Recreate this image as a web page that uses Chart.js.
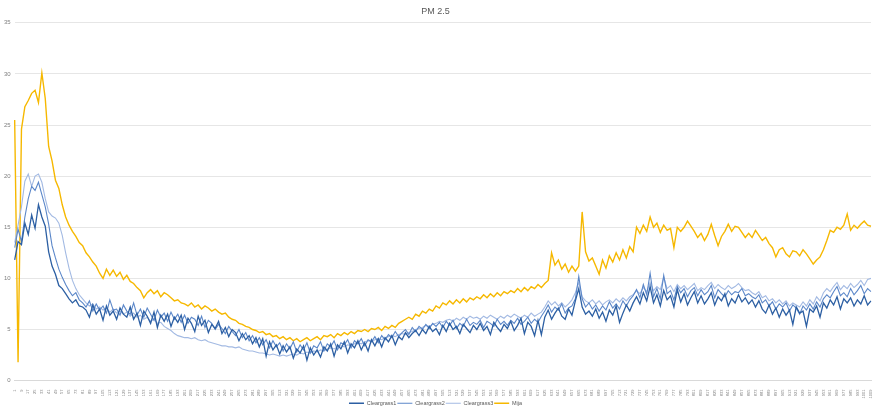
<!DOCTYPE html>
<html>
<head>
<meta charset="utf-8">
<title>PM 2.5</title>
<script src="https://cdn.jsdelivr.net/npm/chart.js@4.4.1/dist/chart.umd.min.js"></script>
<style>
    html, body { margin: 0; padding: 0; background: #ffffff; }
    #wrap { width: 877px; height: 411px; }
</style>
</head>
<body>
<div id="wrap"><canvas id="pmChart"></canvas></div>
<script>
// samples every 4th reading (1, 5, 9 ... 1009); labels shown every 8th like the original
const sampleStep = 4;
const sampleCount = 253;
const categories = [];
for (let i = 0; i < sampleCount; i++) categories.push(String(1 + i * sampleStep));

const seriesNames = ['Cleargrass1', 'Cleargrass2', 'Cleargrass3', 'Mija'];

const cleargrass1 = [
    11.8, 13.6, 13.3, 15.4, 14.3, 16.2, 14.9, 17.2, 16.0, 15.1,
    12.6, 11.2, 10.4, 9.3, 9.0, 8.5, 8.0, 7.6, 7.9, 7.3,
    7.2, 6.9, 6.2, 7.4, 6.5, 7.0, 5.9, 7.3, 6.4, 6.8,
    6.0, 7.1, 6.5, 6.2, 7.2, 6.0, 6.6, 5.4, 6.8, 6.3,
    5.6, 6.7, 5.2, 6.4, 5.8, 6.5, 5.3, 6.2, 5.7, 6.4,
    5.0, 6.1, 5.6, 4.8, 6.3, 5.4, 5.9, 4.7, 5.5, 5.1,
    5.8, 4.6, 5.2, 4.3, 5.0, 4.7, 3.9, 4.6, 4.0, 4.4,
    3.6, 4.2, 3.3, 4.1, 2.4, 3.8, 3.0, 3.5, 2.6, 3.4,
    2.8, 3.3, 2.2, 3.1, 2.7, 3.4, 2.0, 3.2, 2.5, 3.0,
    2.3, 3.3, 2.9, 3.6, 2.4, 3.5, 3.1, 3.8, 2.7, 3.6,
    3.2, 3.9, 3.0, 3.7, 2.9, 4.0, 3.4, 4.1, 3.3, 4.2,
    3.8, 4.4, 3.5, 4.3, 4.0, 4.7, 4.2, 4.6, 4.9, 4.4,
    5.0, 4.6, 5.3, 4.8, 5.1, 4.5,
    5.4, 4.8, 5.6, 5.0, 5.3, 4.6, 5.5, 5.1, 4.7, 5.4,
    5.0, 5.6, 4.9, 5.3, 4.5, 5.7, 5.2, 4.8, 5.5, 5.1,
    5.8, 4.9, 5.4, 6.1, 4.6, 5.7, 5.3, 4.4, 5.9, 4.5,
    6.2, 6.9, 6.0, 6.6, 7.1, 6.3, 6.0, 7.0, 6.4, 7.8,
    9.0, 7.2, 6.5, 6.8, 6.3, 7.0, 6.1, 6.7, 5.8, 6.9,
    6.4, 7.3, 5.7, 6.6, 7.4, 6.8, 7.6, 8.2, 7.5, 8.6,
    7.8, 9.2, 7.6, 8.4, 7.3, 8.8, 7.9, 8.3, 7.2, 8.9,
    7.7, 8.5, 7.4, 8.1, 8.7, 7.6, 8.3, 7.5, 8.0, 8.6,
    7.4, 8.2, 7.8, 8.5, 7.3, 8.0, 7.6, 8.4, 7.7, 8.1,
    7.5, 7.9, 7.2, 7.8, 7.0, 6.6, 7.4, 6.5, 7.1, 6.2,
    7.0, 6.4, 6.9, 5.5, 7.2, 6.6, 6.8, 5.3, 7.0, 6.7,
    7.3, 6.2, 7.6, 7.1, 7.9, 7.4, 8.2, 7.0, 8.0, 7.6,
    8.1, 7.3, 7.9, 7.5, 8.3, 7.4, 7.8
];

const cleargrass2 = [
    13.0, 14.8, 13.6, 16.0, 17.8, 19.0, 18.6, 19.4, 18.2, 17.0,
    15.3, 13.2, 12.0, 10.9, 10.1, 9.4, 8.8, 8.3, 8.6, 7.9,
    7.6, 7.2, 7.8, 6.8, 7.5, 6.9, 7.3, 6.6, 7.9, 6.9,
    7.0, 6.4, 7.4, 6.8, 6.5, 7.6, 6.4, 7.0, 6.2, 7.1,
    6.5, 5.9, 6.9, 6.2, 6.6, 5.8, 6.7, 6.0, 6.5, 5.7,
    6.4, 5.6, 6.2, 6.0, 5.4, 6.3, 5.2, 5.9, 5.6, 5.0,
    5.5, 5.1, 4.6, 5.3, 4.8, 4.4, 5.0, 4.2, 4.7, 3.9,
    4.4, 3.7, 4.2, 3.5, 4.0, 3.2, 3.9, 3.3, 3.7, 2.9,
    3.6, 3.1, 3.8, 2.8, 3.5, 3.0, 3.7, 2.7, 3.4, 3.2,
    3.8, 2.9, 3.6, 3.3, 3.9, 3.0, 3.7, 3.5, 4.0, 3.2,
    3.9, 3.6, 4.1, 3.4, 4.0, 3.8, 4.3, 3.7, 4.4, 4.0,
    4.5, 4.2, 4.8, 4.3, 4.7, 5.0, 4.5, 5.2, 4.8, 5.3,
    5.0, 5.5, 5.1, 5.6, 5.3, 5.7,
    5.2, 5.8, 5.4, 5.9, 5.1, 5.6, 5.3, 6.0, 5.4, 5.7,
    5.5, 5.9, 5.2, 5.8, 5.6, 5.3, 6.0, 5.5, 5.8, 5.4,
    5.9, 5.6, 6.1, 5.5, 5.8, 6.2, 5.6, 6.0, 5.7, 6.3,
    6.8, 7.4, 6.7, 7.2, 6.9, 7.5, 6.6, 7.1, 7.3, 8.0,
    10.2, 8.0, 7.2, 7.6, 7.0, 7.4, 6.8, 7.3, 6.9, 7.7,
    7.1, 7.5, 7.0, 7.8, 7.3, 7.9, 8.3, 8.9, 8.1, 9.4,
    8.4, 10.5, 8.2, 9.0, 8.0, 10.3, 8.5, 8.8, 7.9, 9.2,
    8.6, 9.0, 8.2, 8.8, 9.1, 8.3, 8.9, 8.4, 8.7, 9.3,
    8.1, 8.9, 8.5, 8.2, 8.8, 8.4, 8.7, 8.6, 9.0, 8.3,
    8.5, 8.2, 8.0, 8.4, 7.6, 7.9, 7.3, 7.7, 7.0, 7.5,
    7.2, 7.6, 6.8, 7.4, 7.1, 6.5, 7.3, 6.9, 7.5, 7.0,
    7.7, 7.2, 8.0, 8.4, 8.1, 8.7, 9.2, 8.3, 8.6, 8.2,
    9.0, 8.4, 8.8, 9.3, 8.5, 9.0, 8.7
];

const cleargrass3 = [
    13.5, 15.2, 17.0, 19.5, 20.2, 19.0, 20.0, 20.2, 19.4, 17.8,
    16.5, 16.1, 15.9, 15.4, 14.2, 12.5, 11.0, 9.8, 9.0, 8.4,
    8.0, 7.6, 7.3, 7.5, 7.0, 7.2, 6.9, 7.1, 6.7, 7.0,
    6.6, 6.8, 6.5, 6.7, 6.3, 6.6, 6.2, 6.4, 6.0, 6.2,
    5.8, 6.0, 5.6, 5.7, 5.3, 5.1, 4.9, 4.6, 4.4, 4.3,
    4.2, 4.2, 4.1, 4.2, 4.0, 3.9, 4.0, 3.8, 3.7, 3.6,
    3.5, 3.4, 3.4, 3.3, 3.3, 3.2, 3.3, 3.1, 3.0, 2.9,
    2.9, 2.8, 2.7, 2.7, 2.6, 2.5, 2.6, 2.5, 2.4, 2.5,
    2.4, 2.5, 2.6, 2.5, 2.7, 2.6, 2.8, 2.7, 2.9, 2.8,
    3.0, 2.9, 3.1, 3.2, 3.1, 3.3, 3.4, 3.3, 3.5, 3.4,
    3.6, 3.7, 3.6, 3.8, 3.9, 3.8, 4.0, 4.1, 4.0, 4.2,
    4.3, 4.4, 4.3, 4.5, 4.6, 4.5, 4.7, 4.8, 5.0, 5.1,
    5.2, 5.4, 5.3, 5.5, 5.6, 5.8,
    5.7, 5.9, 6.0, 5.8, 6.1, 5.9, 6.2, 6.0, 6.3, 6.1,
    6.2, 6.0, 6.3, 6.1, 6.4, 6.2, 6.0, 6.3, 6.1, 6.4,
    6.2, 6.5, 6.3, 6.1, 6.4, 6.2, 6.6, 6.3, 6.5, 6.7,
    7.2, 7.8, 7.4, 7.7, 7.3, 7.6, 7.2, 7.5, 7.9, 8.6,
    9.6, 8.2, 7.8, 7.6, 7.9, 7.5, 7.8, 7.4, 7.7, 7.9,
    7.6, 8.0, 7.7, 8.1, 7.8, 8.2, 8.4, 8.8, 8.5, 9.1,
    8.7, 9.6, 8.8, 9.2, 8.9, 10.1, 9.0, 9.3, 8.7, 9.4,
    9.0, 9.3, 8.9, 9.2, 9.5, 8.8, 9.1, 8.9, 9.3, 9.6,
    9.0, 9.4, 9.1, 8.9, 9.3, 9.0, 9.2, 9.5, 9.1, 8.8,
    8.9, 8.6, 8.4, 8.7, 8.1, 8.3, 7.8, 8.0, 7.6, 7.9,
    7.5, 7.8, 7.3, 7.6, 7.4, 7.2, 7.7, 7.3, 7.9, 7.5,
    8.2, 7.8, 8.6, 9.0, 8.7, 9.2, 9.6, 8.9, 9.3, 9.0,
    9.5, 9.1, 9.4, 9.8, 9.3, 9.9, 10.0
];

const mija = [
    25.5, 1.8, 24.6, 26.8, 27.4, 28.1, 28.4, 27.2, 30.1, 27.6,
    22.9, 21.5, 19.6, 18.8, 17.2, 16.0, 15.2, 14.6, 14.1, 13.5,
    13.2, 12.5, 12.1, 11.6, 11.2, 10.5, 10.0, 10.9, 10.3, 10.8,
    10.2, 10.6, 9.9, 10.3, 9.7, 9.5, 9.1, 8.8, 8.1, 8.6,
    8.9, 8.5, 8.8, 8.2, 8.6, 8.4, 8.1, 7.8, 7.9, 7.6,
    7.5, 7.3, 7.6, 7.2, 7.4, 7.0, 7.3, 7.1, 6.8, 7.0,
    6.7, 6.5, 6.6, 6.2, 6.0, 5.9, 5.6, 5.5, 5.3, 5.2,
    5.0, 4.9, 4.7, 4.8, 4.5, 4.6, 4.3, 4.4, 4.1, 4.3,
    4.0, 4.2, 3.9, 4.1, 3.8, 4.0, 4.2, 3.9, 4.1, 4.3,
    4.0, 4.4, 4.3, 4.5, 4.2, 4.6, 4.4, 4.7, 4.5, 4.8,
    4.6, 4.9, 4.8, 5.0, 4.8, 5.1, 5.0, 5.2, 4.9, 5.3,
    5.1, 5.4, 5.2, 5.6, 5.8, 6.0, 6.2, 6.0, 6.5, 6.3,
    6.8, 6.6, 7.0, 6.8, 7.3, 7.1,
    7.6, 7.4, 7.8, 7.5, 7.9, 7.6, 8.0, 7.7, 8.1, 7.9,
    8.2, 8.0, 8.4, 8.1, 8.5, 8.2, 8.6, 8.3, 8.7, 8.5,
    8.8, 8.6, 9.0, 8.7, 9.1, 8.8, 9.2, 9.0, 9.4, 9.1,
    9.5, 9.8, 12.5, 11.3, 11.8, 10.9, 11.4, 10.6, 11.2, 10.7,
    11.2, 16.5, 12.6, 11.7, 12.0, 11.2, 10.4, 11.8, 11.0, 12.2,
    11.6, 12.5, 11.8, 12.8, 12.0, 13.1, 12.6, 15.0, 14.4, 15.2,
    14.6, 16.0, 15.0, 15.4, 14.5, 15.2, 14.7, 14.9, 13.0, 15.0,
    14.6, 15.0, 15.6, 15.1, 14.6, 14.0, 14.4, 13.7, 14.3, 15.3,
    14.2, 13.2, 14.1, 14.6, 15.3, 14.6, 15.1, 15.0, 14.5, 14.0,
    14.4, 14.0, 14.7, 14.2, 13.7, 14.0, 13.4, 13.0, 12.1, 12.8,
    13.0, 12.4, 12.1, 12.7, 12.6, 12.2, 12.8, 12.4, 11.9, 11.4,
    11.8, 12.1, 12.8, 13.7, 14.7, 14.5, 15.0, 14.8, 15.2, 16.3,
    14.7, 15.2, 14.9, 15.3, 15.6, 15.2, 15.1
];

const yTicks = [0, 5, 10, 15, 20, 25, 30, 35];

const fontFamily = 'Liberation Sans, Arial, sans-serif';

function line(label, data, color, width) {
    return {
        label: label,
        data: data,
        borderColor: color,
        backgroundColor: color,
        borderWidth: width,
        pointRadius: 0,
        pointStyle: 'line',
        tension: 0,
        fill: false
    };
}

// the horizontal legend keeps 10px of spare room under itself; take most of it back
const tightLegend = {
    id: 'tightLegend',
    afterInit(chart) {
        const legend = chart.legend;
        if (!legend) return;
        const fit = legend.fit;
        legend.fit = function () {
            fit.call(this);
            this.height -= 5;
        };
    }
};

const ctx = document.getElementById('pmChart');
new Chart(ctx, {
    type: 'line',
    data: {
        labels: categories,
        datasets: [
            line(seriesNames[0], cleargrass1, '#2C5FA3', 1.3),
            line(seriesNames[1], cleargrass2, '#5B87C9', 1.1),
            line(seriesNames[2], cleargrass3, '#A3BAE3', 1.1),
            line(seriesNames[3], mija, '#F6B800', 1.4)
        ]
    },
    options: {
        responsive: true,
        maintainAspectRatio: false,
        animation: false,
        layout: { padding: { left: 0, right: 6, top: 1, bottom: 0 } },
        plugins: {
            title: {
                display: true,
                text: 'PM 2.5',
                color: '#595959',
                font: { family: fontFamily, size: 9, weight: 'normal' },
                padding: { top: 5, bottom: 6 }
            },
            legend: {
                position: 'bottom',
                labels: {
                    usePointStyle: true,
                    pointStyleWidth: 15,
                    boxHeight: 4,
                    padding: 1,
                    color: '#595959',
                    font: { family: fontFamily, size: 5.5 }
                }
            },
            tooltip: { enabled: false }
        },
        scales: {
            x: {
                grid: { display: false },
                border: { display: true, color: '#d9d9d9' },
                ticks: {
                    autoSkip: false,
                    maxRotation: 90,
                    minRotation: 90,
                    padding: 1,
                    color: '#7f7f7f',
                    font: { family: fontFamily, size: 4 },
                    callback: function (value, index) {
                        return index % 2 === 0 ? categories[index] : '';
                    }
                }
            },
            y: {
                min: yTicks[0],
                max: yTicks[yTicks.length - 1],
                afterBuildTicks: function (axis) {
                    axis.ticks = yTicks.map(v => ({ value: v }));
                },
                grid: { color: '#e6e6e6', drawTicks: false },
                border: { display: false },
                ticks: {
                    padding: 4,
                    color: '#7f7f7f',
                    font: { family: fontFamily, size: 6 }
                }
            }
        }
    },
    plugins: [tightLegend]
});
</script>
</body>
</html>
